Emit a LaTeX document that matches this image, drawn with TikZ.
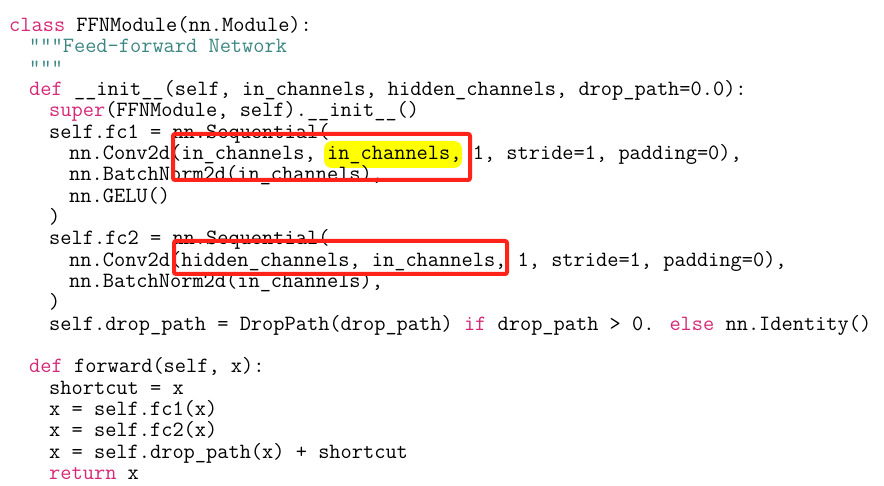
\documentclass[tikz,border=0pt]{standalone}
\definecolor{kw}{RGB}{214,40,120}
\definecolor{doc}{RGB}{60,135,130}
\definecolor{boxred}{RGB}{255,35,25}
\definecolor{hl}{RGB}{255,255,0}
\tikzset{codeline/.style={anchor=base west,inner sep=0pt,font=\fontsize{21.85}{21.85}\selectfont\ttfamily},
 mark box/.style={draw=boxred,line width=4bp,rounded corners=2bp}}
\newcommand{\kwd}[1]{\textcolor{kw}{#1}}
\begin{document}
\begin{tikzpicture}[x=1bp,y=-1bp]
\useasboundingbox (0,0) rectangle (884,486);
\fill[hl,rounded corners=8bp] (324,141) rectangle (462,168);
\node[codeline] (l0) at (9,{21.33*0+31.5}) {\kwd{class} FFNModule(nn.Module):};
\node[codeline] (l1) at (29,{21.33*1+31.5}) {\textcolor{doc}{"""Feed-forward Network}};
\node[codeline] (l2) at (29,{21.33*2+31.5}) {\textcolor{doc}{"""}};
\node[codeline] (l3) at (29,{21.33*3+31.5}) {\kwd{def} \_\_init\_\_(self, in\_channels, hidden\_channels, drop\_path=0.0):};
\node[codeline] (l4) at (49,{21.33*4+31.5}) {\kwd{super}(FFNModule, self).\_\_init\_\_()};
\node[codeline] (l5) at (49,{21.33*5+31.5}) {self.fc1 = nn.Sequential(};
\node[codeline] (l6) at (69,{21.33*6+31.5}) {nn.Conv2d(in\_channels, in\_channels, 1, stride=1, padding=0),};
\node[codeline] (l7) at (69,{21.33*7+31.5}) {nn.BatchNorm2d(in\_channels),};
\node[codeline] (l8) at (69,{21.33*8+31.5}) {nn.GELU()};
\node[codeline] (l9) at (49,{21.33*9+31.5}) {)};
\node[codeline] (l10) at (49,{21.33*10+31.5}) {self.fc2 = nn.Sequential(};
\node[codeline] (l11) at (69,{21.33*11+31.5}) {nn.Conv2d(hidden\_channels, in\_channels, 1, stride=1, padding=0),};
\node[codeline] (l12) at (69,{21.33*12+31.5}) {nn.BatchNorm2d(in\_channels),};
\node[codeline] (l13) at (49,{21.33*13+31.5}) {)};
\node[codeline] (l14) at (49,{21.33*14+31.5}) {self.drop\_path = DropPath(drop\_path) \kwd{if} drop\_path > 0. \kwd{else} nn.Identity()};
\node[codeline] (l16) at (29,{21.33*16+31.5}) {\kwd{def} forward(self, x):};
\node[codeline] (l17) at (49,{21.33*17+31.5}) {shortcut = x};
\node[codeline] (l18) at (49,{21.33*18+31.5}) {x = self.fc1(x)};
\node[codeline] (l19) at (49,{21.33*19+31.5}) {x = self.fc2(x)};
\node[codeline] (l20) at (49,{21.33*20+31.5}) {x = self.drop\_path(x) + shortcut};
\node[codeline] (l21) at (49,{21.33*21+31.5}) {\kwd{return} x};
\draw[mark box] (173,134) rectangle (470,180);
\draw[mark box] (174,241) rectangle (507,274);
\end{tikzpicture}
\end{document}
